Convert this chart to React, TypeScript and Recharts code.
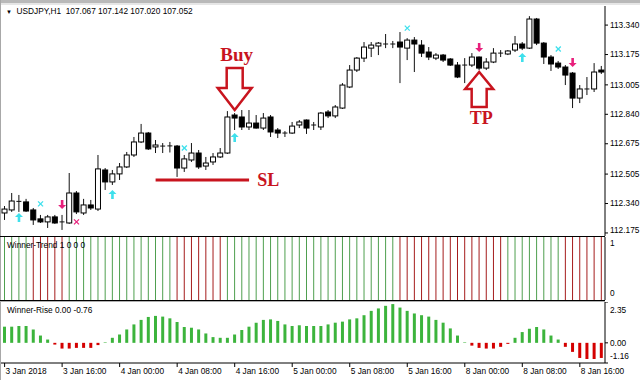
import React from 'react';
import { ComposedChart, Bar, XAxis, YAxis, Cell, ReferenceDot, ReferenceLine } from 'recharts';

// USDJPY H1 candles, 3 Jan 08:00 .. 8 Jan 19:00
const OPEN = [
  112.287, 112.304, 112.349, 112.349, 112.304, 112.254, 112.237, 112.265, 112.237, 112.231,
  112.399, 112.287, 112.332, 112.309, 112.528, 112.461, 112.506, 112.545, 112.612, 112.685,
  112.735, 112.657, 112.662, 112.660, 112.662, 112.539, 112.584, 112.623, 112.550, 112.573,
  112.601, 112.623, 112.836, 112.825, 112.769, 112.791, 112.763, 112.825, 112.752, 112.735,
  112.735, 112.780, 112.808, 112.780, 112.769, 112.853, 112.831, 112.875, 112.993, 113.088,
  113.155, 113.211, 113.223, 113.234, 113.234, 113.245, 113.211, 113.256, 113.228, 113.189,
  113.155, 113.172, 113.150, 113.116, 113.116, 113.116, 113.161, 113.099, 113.133, 113.183,
  113.178, 113.200, 113.234, 113.211, 113.374, 113.239, 113.161, 113.127, 113.105, 113.071,
  112.931, 112.982, 112.982, 113.088,
];
const HIGH = [
  112.326, 112.399, 112.388, 112.366, 112.315, 112.276, 112.276, 112.276, 112.276, 112.511,
  112.410, 112.366, 112.360, 112.612, 112.539, 112.528, 112.567, 112.629, 112.713, 112.786,
  112.741, 112.696, 112.679, 112.685, 112.668, 112.612, 112.679, 112.640, 112.601, 112.623,
  112.651, 112.858, 112.847, 112.864, 112.864, 112.836, 112.847, 112.836, 112.763, 112.746,
  112.797, 112.808, 112.811, 112.797, 112.853, 112.864, 112.892, 113.015, 113.116, 113.161,
  113.245, 113.245, 113.245, 113.290, 113.251, 113.301, 113.267, 113.273, 113.256, 113.217,
  113.183, 113.178, 113.155, 113.133, 113.155, 113.183, 113.164, 113.155, 113.211, 113.200,
  113.200, 113.279, 113.245, 113.390, 113.380, 113.245, 113.172, 113.139, 113.116, 113.077,
  113.004, 113.049, 113.127, 113.111,
];
const LOW = [
  112.248, 112.293, 112.293, 112.293, 112.220, 112.231, 112.203, 112.226, 112.192, 112.226,
  112.281, 112.276, 112.304, 112.298, 112.416, 112.444, 112.472, 112.539, 112.601, 112.679,
  112.640, 112.623, 112.623, 112.626, 112.489, 112.517, 112.573, 112.534, 112.528, 112.556,
  112.595, 112.618, 112.752, 112.752, 112.752, 112.760, 112.752, 112.713, 112.707, 112.713,
  112.730, 112.763, 112.730, 112.752, 112.752, 112.819, 112.819, 112.870, 112.987, 113.077,
  113.133, 113.161, 113.172, 113.211, 113.211, 113.015, 113.144, 113.077, 113.161, 113.144,
  113.144, 113.133, 113.111, 113.043, 113.015, 113.105, 113.088, 113.088, 113.127, 113.161,
  113.172, 113.189, 113.200, 113.206, 113.228, 113.122, 113.083, 113.094, 113.004, 112.875,
  112.903, 112.948, 112.965, 113.066,
];
const CLOSE = [
  112.309, 112.354, 112.352, 112.298, 112.248, 112.237, 112.265, 112.231, 112.234, 112.399,
  112.293, 112.332, 112.315, 112.534, 112.461, 112.506, 112.545, 112.612, 112.685, 112.735,
  112.646, 112.668, 112.660, 112.663, 112.539, 112.590, 112.623, 112.545, 112.567, 112.601,
  112.623, 112.825, 112.819, 112.769, 112.791, 112.763, 112.819, 112.741, 112.735, 112.732,
  112.774, 112.797, 112.763, 112.777, 112.847, 112.831, 112.881, 113.004, 113.088, 113.155,
  113.217, 113.228, 113.239, 113.231, 113.231, 113.217, 113.256, 113.234, 113.183, 113.161,
  113.172, 113.144, 113.116, 113.049, 113.113, 113.161, 113.099, 113.133, 113.183, 113.181,
  113.195, 113.234, 113.211, 113.374, 113.239, 113.161, 113.122, 113.105, 113.060, 112.931,
  112.982, 112.979, 113.077, 113.077,
];

// Winner-Trend: 1 = up (green), -1 = down (red)
const TREND = [
  1, 1, 1, 1, -1, -1, -1, -1, -1, 1,
  1, 1, 1, 1, 1, 1, 1, 1, 1, 1,
  1, 1, 1, 1, -1, -1, -1, -1, -1, -1,
  -1, 1, 1, 1, 1, 1, 1, 1, 1, 1,
  1, 1, 1, 1, 1, 1, 1, 1, 1, 1,
  1, 1, 1, 1, 1, -1, -1, -1, -1, -1,
  -1, -1, -1, -1, -1, -1, -1, -1, -1, -1,
  1, 1, 1, 1, 1, 1, 1, 1, -1, -1,
  -1, -1, -1, -1,
];

// Winner-Rise histogram
const RISE = [
  0.93, 0.93, 0.97, 0.97, 0.77, 0.42, 0.19, -0.10, -0.33, -0.33,
  -0.29, -0.29, -0.29, -0.13, 0.03, 0.29, 0.48, 0.77, 1.06, 1.32,
  1.49, 1.55, 1.51, 1.41, 1.20, 0.91, 0.87, 0.77, 0.54, 0.33,
  0.29, 0.29, 0.48, 0.74, 0.93, 1.16, 1.32, 1.35, 1.26, 1.06,
  0.97, 1.01, 0.97, 0.97, 0.97, 1.06, 1.16, 1.22, 1.35, 1.41,
  1.59, 1.84, 1.98, 2.13, 2.23, 2.03, 1.84, 1.69, 1.59, 1.51,
  1.32, 1.16, 0.83, 0.42, 0.03, -0.16, -0.29, -0.33, -0.33, -0.23,
  -0.06, 0.29, 0.62, 0.81, 0.91, 0.77, 0.42, 0.19, -0.23, -0.52,
  -0.87, -0.93, -0.93, -0.87,
];

const PRICE_TICKS = [112.175, 112.34, 112.505, 112.675, 112.84, 113.005, 113.175, 113.34];
const TIME_TICKS = [
  '3 Jan 2018', '3 Jan 16:00', '4 Jan 00:00', '4 Jan 08:00', '4 Jan 16:00', '5 Jan 00:00',
  '5 Jan 08:00', '5 Jan 16:00', '8 Jan 00:00', '8 Jan 08:00', '8 Jan 16:00',
];

// signal arrows / crosses: [bar, price]
const UP_ARROWS = [[2, 112.259], [15, 112.388], [32, 112.707], [72, 113.155]];
const DOWN_ARROWS = [[8, 112.338], [66, 113.217], [79, 113.133]];
const CYAN_CROSSES = [[5, 112.338], [25, 112.651], [56, 113.323], [77, 113.206]];
const PINK_CROSSES = [[10, 112.237]];

const BUY = { bar: 32, price: 112.864 };
const TP = { bar: 66, price: 113.077 };
const SL = { from: 21, to: 34, price: 112.472 };

const FONT = '"Liberation Sans", Arial, sans-serif';
const SERIF = '"Liberation Serif", "Times New Roman", serif';
const RED = '#c8141e';
const CYAN = '#3ee0ec';
const PINK = '#e8207c';

const data = OPEN.map((o, i) => ({
  i,
  open: o,
  high: HIGH[i],
  low: LOW[i],
  close: CLOSE[i],
  one: 1,
  trend: TREND[i],
  rise: RISE[i],
}));

const Candle = (props: any) => {
  const { x, y, width, height, payload } = props;
  const top = Math.min(y, y + height);
  const bot = Math.max(y, y + height);
  const k = (bot - top) / (payload.high - payload.low || 1);
  const cx = x + width / 2;
  const yO = top + (payload.high - payload.open) * k;
  const yC = top + (payload.high - payload.close) * k;
  const bull = payload.close >= payload.open;
  const bt = Math.min(yO, yC);
  const bh = Math.abs(yO - yC);
  return (
    <g>
      <line x1={cx} x2={cx} y1={top} y2={bot} stroke="#111" strokeWidth={1} />
      {bh < 1.5 ? (
        <line x1={cx - 2.5} x2={cx + 2.5} y1={bt} y2={bt} stroke="#111" strokeWidth={1} />
      ) : (
        <rect x={cx - 2.5} y={bt} width={5} height={bh} fill={bull ? '#fff' : '#000'} stroke="#000" strokeWidth={1} />
      )}
    </g>
  );
};

const UpArrow = ({ cx, cy }: any) => (
  <path d={`M${cx},${cy - 5} L${cx + 4},${cy - 1} L${cx + 1.3},${cy - 1} L${cx + 1.3},${cy + 4} L${cx - 1.3},${cy + 4} L${cx - 1.3},${cy - 1} L${cx - 4},${cy - 1} Z`} fill={CYAN} />
);
const DownArrow = ({ cx, cy }: any) => (
  <path d={`M${cx},${cy + 5} L${cx + 4},${cy + 1} L${cx + 1.3},${cy + 1} L${cx + 1.3},${cy - 4} L${cx - 1.3},${cy - 4} L${cx - 1.3},${cy + 1} L${cx - 4},${cy + 1} Z`} fill={PINK} />
);
const Cross = ({ cx, cy, color }: any) => (
  <g stroke={color} strokeWidth={1.3}>
    <line x1={cx - 2.5} y1={cy - 2.5} x2={cx + 2.5} y2={cy + 2.5} />
    <line x1={cx - 2.5} y1={cy + 2.5} x2={cx + 2.5} y2={cy - 2.5} />
  </g>
);

const BuyMark = ({ cx, cy }: any) => (
  <g>
    <path
      d={`M${cx},${cy} L${cx - 17},${cy - 22} L${cx - 8},${cy - 22} L${cx - 8},${cy - 42} L${cx + 8},${cy - 42} L${cx + 8},${cy - 22} L${cx + 17},${cy - 22} Z`}
      fill="#fff" stroke={RED} strokeWidth={2.5} strokeLinejoin="miter"
    />
    <text x={cx + 2} y={cy - 49} textAnchor="middle" fontFamily={SERIF} fontWeight="bold" fontSize={19} fill={RED}>Buy</text>
  </g>
);

const TpMark = ({ cx, cy }: any) => (
  <g>
    <path
      d={`M${cx},${cy} L${cx - 14},${cy + 17} L${cx - 7.5},${cy + 17} L${cx - 7.5},${cy + 35} L${cx + 7.5},${cy + 35} L${cx + 7.5},${cy + 17} L${cx + 14},${cy + 17} Z`}
      fill="#fff" stroke={RED} strokeWidth={2.5}
    />
    <text x={cx + 2} y={cy + 52} textAnchor="middle" fontFamily={SERIF} fontWeight="bold" fontSize={18} fill={RED}>TP</text>
  </g>
);

const SlText = ({ cx, cy }: any) => (
  <text x={cx + 1} y={cy + 6} fontFamily={SERIF} fontWeight="bold" fontSize={18} fill={RED}>SL</text>
);

// lowest label sits just above the panel edge
const priceTick = ({ x, y, payload }: any) => (
  <text x={x} y={payload.value < 112.2 ? y - 2.5 : y} dy="0.33em" fontSize={8.3} fontFamily={FONT} fill="#000">{payload.value.toFixed(3)}</text>
);

const trendTick = ({ x, y, payload }: any) => (
  <text x={x} y={y + (payload.value === 1 ? 6 : -7)} dy="0.33em" fontSize={8.3} fontFamily={FONT} fill="#000">{payload.value}</text>
);

const riseTick = ({ x, y, payload }: any) => {
  const off = payload.value > 1 ? 8 : payload.value < 0 ? -7 : 0;
  return (
    <text x={x} y={y + off} dy="0.33em" fontSize={8.3} fontFamily={FONT} fill="#000">{payload.value.toFixed(2)}</text>
  );
};

const timeTick = ({ x, y, payload }: any) => (
  <text x={x + 1} y={y} dy="0.75em" fontSize={8.3} fontFamily={FONT} fill="#000">{TIME_TICKS[payload.value / 8]}</text>
);

export default function App() {
  const margin = { top: 0, right: 0, bottom: 0, left: 1 };
  return (
    <div style={{ position: 'relative', width: 640, height: 380, background: '#fff', overflow: 'hidden', fontFamily: FONT }}>
      <style>{`body{margin:0}`}</style>
      {/* window frame */}
      <div style={{ position: 'absolute', left: 0, top: 0, width: 640, height: 3, background: '#b9b9b9' }} />
      <div style={{ position: 'absolute', left: 0, top: 3, width: 640, height: 2, background: '#e6e6e6' }} />
      <div style={{ position: 'absolute', left: 0, top: 0, width: 1, height: 380, background: '#a8a8a8' }} />

      <div style={{ position: 'absolute', left: 0, top: 6 }}>
        <ComposedChart width={640} height={230} data={data} margin={margin}>
          <XAxis dataKey="i" type="category" hide />
          <YAxis
            orientation="right" width={35} domain={[112.158, 113.447]} ticks={PRICE_TICKS}
            allowDataOverflow interval={0} tick={priceTick} tickSize={3} tickMargin={2}
            axisLine={{ stroke: '#000' }} tickLine={{ stroke: '#000' }}
          />
          <Bar dataKey={(d: any) => [d.low, d.high]} barSize={5} shape={<Candle />} isAnimationActive={false} />
          <ReferenceLine
            segment={[{ x: SL.from, y: SL.price }, { x: SL.to, y: SL.price }]}
            stroke={RED} strokeWidth={3}
          />
          <ReferenceDot x={SL.to + 1} y={SL.price} r={0} shape={<SlText />} />
          <ReferenceDot x={BUY.bar} y={BUY.price} r={0} shape={<BuyMark />} />
          <ReferenceDot x={TP.bar} y={TP.price} r={0} shape={<TpMark />} />
          {UP_ARROWS.map(([b, p]) => (
            <ReferenceDot key={'u' + b} x={b} y={p} r={0} shape={<UpArrow />} />
          ))}
          {DOWN_ARROWS.map(([b, p]) => (
            <ReferenceDot key={'d' + b} x={b} y={p} r={0} shape={<DownArrow />} />
          ))}
          {CYAN_CROSSES.map(([b, p]) => (
            <ReferenceDot key={'c' + b} x={b} y={p} r={0} shape={<Cross color={CYAN} />} />
          ))}
          {PINK_CROSSES.map(([b, p]) => (
            <ReferenceDot key={'p' + b} x={b} y={p} r={0} shape={<Cross color={PINK} />} />
          ))}
        </ComposedChart>
      </div>
      <div style={{ position: 'absolute', left: 6, top: 6, fontSize: 8.3, lineHeight: '10px', color: '#000', whiteSpace: 'pre' }}>
        <span style={{ fontSize: 6 }}>▼</span>{'  USDJPY,H1  107.067 107.142 107.020 107.052'}
      </div>

      {/* separator */}
      <div style={{ position: 'absolute', left: 0, top: 236, width: 605, height: 1, background: '#000' }} />

      <div style={{ position: 'absolute', left: 0, top: 237 }}>
        <ComposedChart width={640} height={63} data={data} margin={margin}>
          <XAxis dataKey="i" type="category" hide />
          <YAxis
            orientation="right" width={35} domain={[0, 1]} ticks={[0, 1]} interval={0}
            tick={trendTick} tickSize={3} tickMargin={2}
            axisLine={{ stroke: '#000' }} tickLine={false}
          />
          <Bar dataKey="one" barSize={1} isAnimationActive={false}>
            {data.map((d) => (
              <Cell key={d.i} fill={d.trend > 0 ? '#4f9f4f' : '#a51c1c'} />
            ))}
          </Bar>
        </ComposedChart>
      </div>
      <div style={{ position: 'absolute', left: 7, top: 240, fontSize: 8.3, lineHeight: '10px', color: '#000' }}>
        Winner-Trend 1 0 0 0
      </div>

      <div style={{ position: 'absolute', left: 0, top: 300, width: 605, height: 1, background: '#000' }} />
      <div style={{ position: 'absolute', left: 0, top: 301, width: 605, height: 1, background: '#b0b0b0' }} />

      <div style={{ position: 'absolute', left: 0, top: 302 }}>
        <ComposedChart width={640} height={78} data={data} margin={margin}>
          <XAxis
            dataKey="i" type="category" interval={7} tick={timeTick} height={17}
            tickSize={4} tickMargin={1} axisLine={{ stroke: '#000' }} tickLine={{ stroke: '#000' }}
          />
          <YAxis
            orientation="right" width={35} domain={[-1.16, 2.35]} ticks={[-1.16, 0, 2.35]} interval={0}
            allowDataOverflow tick={riseTick} tickSize={3} tickMargin={2}
            axisLine={{ stroke: '#000' }} tickLine={{ stroke: '#000' }}
          />
          <Bar dataKey="rise" barSize={3} isAnimationActive={false}>
            {data.map((d) => (
              <Cell key={d.i} fill={d.rise >= 0 ? '#3cb43c' : '#d40000'} />
            ))}
          </Bar>
        </ComposedChart>
      </div>
      <div style={{ position: 'absolute', left: 7, top: 305, fontSize: 8.3, lineHeight: '10px', color: '#000' }}>
        Winner-Rise 0.00 -0.76
      </div>
    </div>
  );
}
